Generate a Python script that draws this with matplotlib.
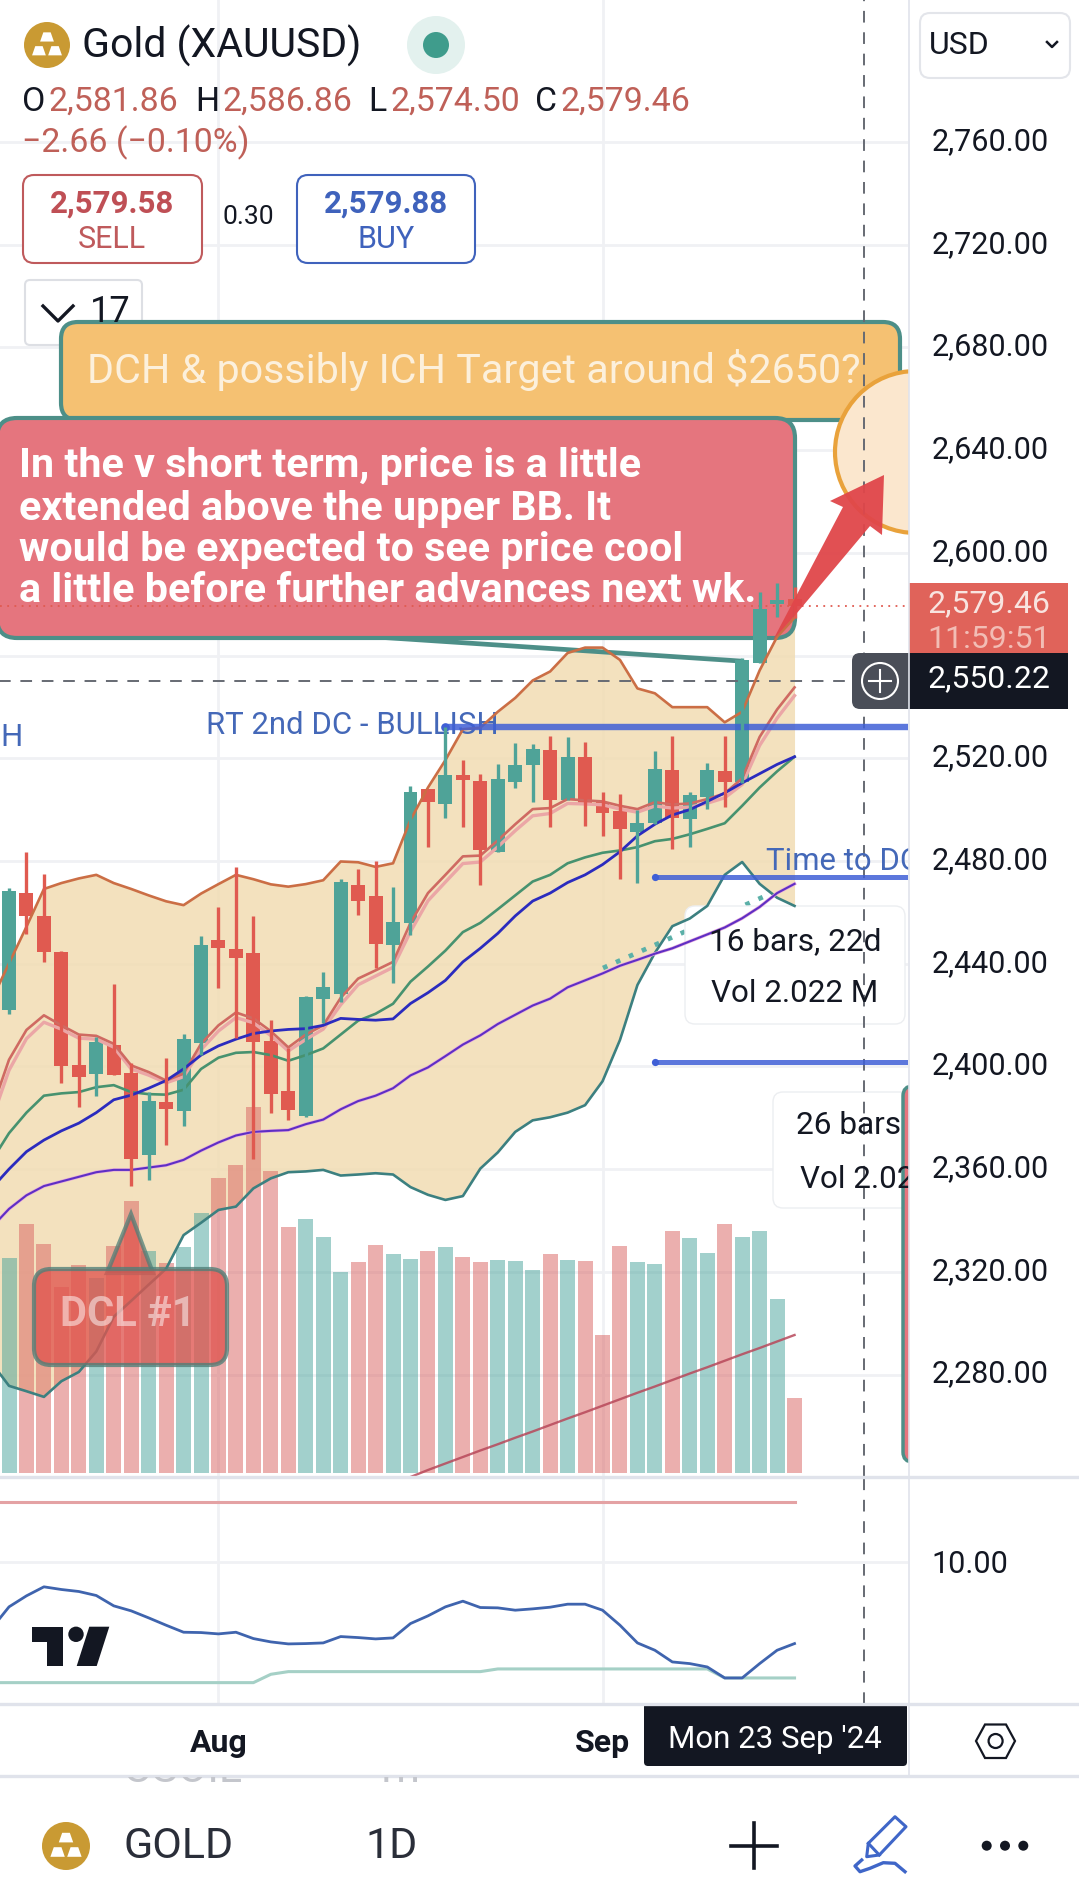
import numpy as np
import matplotlib
matplotlib.use('Agg')
import matplotlib.pyplot as plt
from matplotlib.patches import FancyBboxPatch, Circle, Polygon, Rectangle
from matplotlib.transforms import ScaledTranslation

plt.rcParams['font.family'] = ['Roboto', 'DejaVu Sans']

# daily candles, Jul - Sep 2024
opens = [2421.9, 2467.5, 2458.5, 2444.6, 2400.4, 2397.2, 2408.3, 2397.6, 2365.4, 2386.1, 2382.6, 2409.2,
         2449.2, 2445.7, 2444.0, 2409.9, 2390.4, 2380.8, 2426.4, 2428.3, 2470.5, 2466.2, 2447.1, 2456.0,
         2508.1, 2502.2, 2513.6, 2511.1, 2483.6, 2510.8, 2517.2, 2523.4, 2503.8, 2520.4, 2502.9, 2499.5,
         2491.4, 2494.7, 2515.4, 2496.3, 2505.0, 2514.9, 2510.8, 2557.2, 2580.1, 2581.86]
closes = [2468.2, 2458.5, 2444.6, 2400.1, 2396.0, 2409.7, 2396.5, 2364.1, 2386.6, 2383.3, 2410.8, 2447.3,
          2446.0, 2442.4, 2409.7, 2389.3, 2382.9, 2427.1, 2430.8, 2472.0, 2464.6, 2447.6, 2456.2, 2507.0,
          2503.1, 2513.6, 2511.7, 2484.1, 2511.8, 2517.2, 2523.8, 2503.8, 2520.4, 2502.7, 2498.6, 2492.3,
          2494.7, 2515.8, 2496.6, 2505.6, 2515.6, 2510.6, 2558.3, 2578.0, 2581.6, 2579.46]
highs = [2469.3, 2483.6, 2474.8, 2445.1, 2412.4, 2411.5, 2432.1, 2401.2, 2390.0, 2403.1, 2412.8, 2450.9,
         2462.1, 2477.7, 2458.5, 2418.1, 2407.0, 2427.6, 2436.9, 2473.0, 2476.8, 2480.0, 2469.8, 2509.3,
         2508.1, 2532.2, 2519.4, 2514.0, 2517.6, 2526.1, 2525.6, 2528.6, 2528.3, 2526.5, 2506.8, 2505.9,
         2499.7, 2522.9, 2528.6, 2506.8, 2518.3, 2528.6, 2559.0, 2584.6, 2588.4, 2586.86]
lows = [2420.5, 2451.7, 2440.5, 2393.6, 2384.2, 2388.3, 2396.5, 2353.4, 2355.7, 2369.5, 2376.6, 2404.4,
        2430.5, 2411.0, 2364.1, 2381.7, 2379.0, 2380.4, 2416.9, 2424.9, 2458.9, 2438.3, 2432.4, 2451.0,
        2485.4, 2496.8, 2493.2, 2470.7, 2483.6, 2508.3, 2502.9, 2493.2, 2503.8, 2493.8, 2489.8, 2472.8,
        2471.6, 2494.3, 2484.8, 2485.4, 2500.2, 2501.1, 2510.4, 2557.2, 2575.1, 2574.5]
# volume in thousands
volumes = [861, 997, 918, 744, 832, 781, 909, 1089, 887, 841, 904, 1041, 1181, 1234, 1466, 1208, 986, 1016,
           946, 803, 845, 913, 878, 858, 887, 904, 865, 845, 854, 847, 812, 876, 854, 850, 553, 909, 845,
           836, 968, 940, 880, 997, 946, 968, 696, 299]
vol_ma = [-16, 12, 38, 64, 90, 115, 141, 166, 192, 218, 243, 269, 295, 321, 346, 372, 398, 423, 449, 475, 500,
          526, 552]

# indicator lines start one bar left of the first candle
bb_upper = [2425.8, 2440.1, 2454.4, 2469.1, 2471.4, 2473.2, 2474.6, 2471.4, 2469.1, 2466.6, 2464.3, 2462.8,
            2467.3, 2471.0, 2474.6, 2472.9, 2470.9, 2470.0, 2471.0, 2472.5, 2479.8, 2479.5, 2477.7, 2479.1,
            2496.0, 2508.6, 2519.3, 2531.3, 2531.9, 2538.1, 2543.5, 2550.3, 2553.8, 2561.0, 2563.1, 2563.1,
            2558.3, 2547.2, 2545.3, 2539.9, 2539.9, 2539.9, 2534.0, 2538.1, 2554.2, 2567.3, 2574.8]
bb_lower = [2284.6, 2275.6, 2273.5, 2271.3, 2277.4, 2281.0, 2289.0, 2302.5, 2308.7, 2315.0, 2321.2, 2334.3,
            2339.1, 2344.1, 2345.4, 2352.5, 2356.4, 2358.8, 2359.1, 2359.7, 2357.5, 2357.9, 2358.4, 2357.9,
            2353.0, 2350.0, 2348.0, 2349.5, 2360.2, 2366.5, 2374.5, 2379.0, 2380.2, 2382.0, 2384.9, 2394.2,
            2410.3, 2431.7, 2444.2, 2454.6, 2457.6, 2462.5, 2474.6, 2479.6, 2471.1, 2465.7, 2462.5]
ma_red = [2382.9, 2402.6, 2414.2, 2419.9, 2416.0, 2412.4, 2411.9, 2408.8, 2400.4, 2397.8, 2394.5, 2397.2,
          2408.8, 2416.0, 2421.0, 2418.7, 2413.7, 2407.4, 2412.4, 2416.0, 2426.7, 2434.2, 2437.4, 2440.7,
          2455.9, 2467.5, 2474.6, 2481.8, 2482.1, 2488.0, 2494.3, 2500.2, 2500.6, 2504.1, 2503.6, 2503.2,
          2501.5, 2500.2, 2502.9, 2502.0, 2502.4, 2504.1, 2506.3, 2512.2, 2528.3, 2539.0, 2547.6]
ma_pink = [2379.0, 2398.5, 2410.8, 2417.2, 2414.5, 2411.0, 2410.6, 2407.5, 2399.0, 2396.6, 2393.6, 2396.0,
           2406.5, 2413.8, 2419.0, 2417.0, 2412.0, 2406.0, 2410.5, 2414.5, 2424.0, 2431.8, 2435.2, 2438.6,
           2452.5, 2464.5, 2471.8, 2479.0, 2479.6, 2485.5, 2491.8, 2497.6, 2498.5, 2502.4, 2502.2, 2501.9,
           2500.2, 2499.0, 2501.4, 2500.6, 2501.0, 2502.5, 2504.6, 2509.8, 2525.0, 2535.6, 2544.4]
ma_green = [2363.2, 2374.0, 2382.0, 2388.6, 2389.5, 2390.0, 2391.9, 2392.7, 2390.0, 2389.2, 2389.0, 2390.9,
            2399.0, 2403.4, 2405.3, 2405.6, 2404.4, 2402.2, 2404.4, 2407.0, 2412.4, 2417.8, 2420.5, 2424.4,
            2433.0, 2438.9, 2445.1, 2452.3, 2455.9, 2461.2, 2466.6, 2472.0, 2474.6, 2479.1, 2481.4, 2483.2,
            2484.1, 2485.4, 2487.7, 2488.6, 2490.4, 2492.5, 2494.7, 2501.5, 2508.6, 2514.9, 2520.6]
ma_blue = [2352.5, 2360.0, 2366.8, 2371.3, 2374.9, 2377.9, 2382.0, 2387.0, 2388.8, 2391.5, 2394.5, 2399.0,
           2404.4, 2408.0, 2410.6, 2412.8, 2413.8, 2414.4, 2414.7, 2416.0, 2418.7, 2418.3, 2418.0, 2418.5,
           2424.5, 2428.7, 2433.5, 2440.7, 2446.0, 2451.8, 2458.6, 2464.4, 2467.5, 2471.6, 2474.6, 2478.6,
           2483.6, 2489.8, 2494.3, 2497.9, 2500.0, 2503.2, 2506.5, 2510.4, 2514.0, 2517.6, 2520.6]
ma_purple = [2337.3, 2344.5, 2349.8, 2353.4, 2355.2, 2357.0, 2358.8, 2359.7, 2359.7, 2360.6, 2361.5, 2363.6,
             2367.2, 2370.4, 2373.1, 2374.5, 2374.9, 2375.2, 2377.5, 2379.3, 2383.3, 2386.5, 2388.6, 2391.5,
             2396.5, 2399.6, 2404.0, 2408.5, 2412.1, 2416.5, 2420.1, 2423.7, 2426.4, 2430.8, 2433.5, 2436.2,
             2439.2, 2441.5, 2443.9, 2446.0, 2448.7, 2451.4, 2454.1, 2457.7, 2462.1, 2467.5, 2471.1]
# lower pane
osc_blue = [6.0, 7.3, 7.96, 8.5, 8.34, 8.22, 7.98, 7.36, 7.06, 6.64, 6.2, 5.78, 5.76, 5.68, 5.78, 5.4, 5.2,
            5.08, 5.1, 5.14, 5.52, 5.46, 5.38, 5.44, 6.3, 6.76, 7.3, 7.64, 7.26, 7.24, 7.1, 7.18, 7.28, 7.46,
            7.46, 7.1, 6.2, 5.14, 4.7, 4.0, 3.9, 3.7, 3.04, 3.04, 3.9, 4.7, 5.1]
osc_green = [2.76, 2.76, 2.76, 2.76, 2.76, 2.76, 2.76, 2.76, 2.76, 2.76, 2.76, 2.76, 2.76, 2.76, 2.76, 2.76,
             3.26, 3.42, 3.42, 3.42, 3.42, 3.42, 3.42, 3.42, 3.42, 3.42, 3.42, 3.42, 3.42, 3.58, 3.58, 3.58,
             3.58, 3.58, 3.58, 3.58, 3.58, 3.58, 3.58, 3.58, 3.58, 3.58, 3.04, 3.04, 3.04, 3.04, 3.04]
osc_red = [13.6] * 47

price_ticks = [2760, 2720, 2680, 2640, 2600, 2560, 2520, 2480, 2440, 2400, 2360, 2320, 2280]
price_labels = ['2,760.00', '2,720.00', '2,680.00', '2,640.00', '2,600.00', '', '2,520.00', '2,480.00',
                '2,440.00', '2,400.00', '2,360.00', '2,320.00', '2,280.00']
month_ticks = [12, 34]
month_labels = ['Aug', 'Sep']
last_price = 2579.46
cross_price = 2550.22
cross_bar = 49
level_bars = [25, 37, 37]
level_prices = [2532.2, 2473.6, 2401.7]
level_widths = [4.6, 3.6, 3.6]

W, H = 1079, 1903
RED, GREEN = '#E05A50', '#4FA398'
VOL_RED, VOL_GREEN = '#D9605F', '#47A39A'
TEAL_EDGE = '#4D8F88'
INK = '#131722'
GRID = '#F0F1F4'
BLUE_LINE = '#3F5FD6'

bars = np.arange(len(opens))
line_x = np.arange(-1, 46)
vol_x = np.arange(len(volumes))
colors = [GREEN if c >= o else RED for o, c in zip(opens, closes)]
vol_colors = [VOL_GREEN if c >= o else VOL_RED for o, c in zip(opens, closes)]
xlim = (-0.516, 51.5)
ylim = (2240.1, 2815.3)

fig = plt.figure(figsize=(W / 100, H / 100), dpi=100, facecolor='white')


def pane(top, bottom, zorder):
    a = fig.add_axes([0, 1 - bottom / H, 908 / W, (bottom - top) / H], zorder=zorder)
    a.set_xlim(*xlim)
    a.patch.set_alpha(0)
    for s in a.spines.values():
        s.set_visible(False)
    a.tick_params(length=0)
    return a


def px_axes(x0, y0, x1, y1, zorder):
    # axes whose data units are screen pixels, y going down
    a = fig.add_axes([x0 / W, 1 - y1 / H, (x1 - x0) / W, (y1 - y0) / H], zorder=zorder)
    a.set_xlim(x0, x1)
    a.set_ylim(y1, y0)
    a.axis('off')
    return a


# price pane: grid and band at the bottom, then volume, then candles
ax = pane(0, 1477, 1)
ax.set_ylim(*ylim)
ax.yaxis.tick_right()
ax.set_yticks(price_ticks)
ax.set_yticklabels(price_labels, fontsize=22, color=INK)
ax.tick_params(axis='y', pad=17)
for t in ax.get_yticklabels():
    t.set_transform(t.get_transform() + ScaledTranslation(0, 3.5 / 100, fig.dpi_scale_trans))
ax.set_xticks(month_ticks)
ax.set_xticklabels([])
ax.grid(True, color=GRID, linewidth=2)
ax.set_axisbelow(True)
ax.fill_between(line_x, bb_lower, bb_upper, color='#F1DBB0', alpha=0.82, linewidth=0)

ax_vol = pane(0, 1477, 2)
ax_vol.set_ylim(-16, 5892)
ax_vol.axis('off')
ax_vol.bar(vol_x, volumes, width=0.86, color=vol_colors, alpha=0.5, linewidth=0)
ax_vol.plot(np.arange(23, 46), vol_ma, color='#B8485A', linewidth=1.7, alpha=0.85)

ax_c = pane(0, 1477, 3)
ax_c.set_ylim(*ylim)
ax_c.axis('off')
ax_c.axhline(last_price, color=RED, linewidth=1.3, linestyle=(0, (1, 3)))
ax_c.plot([-1, cross_bar - 1], [cross_price, cross_price], color='#666A73', linewidth=1.4, linestyle=(0, (6, 5)))
ax_c.axvline(cross_bar, color='#666A73', linewidth=1.4, linestyle=(0, (6, 5)))
ax_c.plot(line_x, bb_upper, color='#CB6E45', linewidth=1.9)
ax_c.plot(line_x, bb_lower, color='#3C8080', linewidth=1.9)
ax_c.plot(line_x, ma_pink, color='#EBA6A6', linewidth=2.4)
ax_c.plot(line_x, ma_red, color='#CF6A62', linewidth=1.9)
ax_c.plot(line_x, ma_green, color='#47926F', linewidth=1.9)
ax_c.plot(line_x, ma_blue, color='#2B2BBE', linewidth=2.0)
ax_c.plot(line_x, ma_purple, color='#E6A8DC', linewidth=2.4)
ax_c.plot(line_x, ma_purple, color='#5E2FC4', linewidth=1.5)
for start, level, lw in zip(level_bars, level_prices, level_widths):
    ax_c.plot([start, xlim[1]], [level, level], color=BLUE_LINE, linewidth=lw, alpha=0.85,
              solid_capstyle='round')
    ax_c.plot([start], [level], 'o', color=BLUE_LINE, markersize=lw + 1.6, markeredgewidth=0)
ax_c.vlines(bars, lows, highs, colors=colors, linewidth=2.4)
ax_c.bar(bars, np.array(closes) - np.array(opens), bottom=opens, width=0.8, color=colors, linewidth=0)

# lower pane
ax_o = pane(1477, 1704, 1)
ax_o.set_ylim(1.48, 15.08)
ax_o.yaxis.tick_right()
ax_o.set_yticks([10])
ax_o.set_yticklabels(['10.00'], fontsize=22, color=INK)
ax_o.tick_params(axis='y', pad=17)
ax_o.set_xticks(month_ticks)
ax_o.set_xticklabels(month_labels, fontsize=23, fontweight='bold', color=INK)
ax_o.tick_params(axis='x', pad=17)
ax_o.grid(True, color=GRID, linewidth=2)
ax_o.set_axisbelow(True)
ax_o.plot(line_x, osc_red, color='#E4A2A4', linewidth=2.2)
ax_o.plot(line_x, osc_green, color='#A5D0C6', linewidth=2.2)
ax_o.plot(line_x, osc_blue, color='#3F64AE', linewidth=2.0)
ax_o.axvline(cross_bar, color='#666A73', linewidth=1.4, linestyle=(0, (6, 5)))

# app interface, drawn in screen pixels
ui_low = px_axes(0, 0, W, H, 2.5)      # under the candles
low_clip = px_axes(0, 0, 909, 1477, 2.6)  # the same, cut at the price scale
ui = px_axes(0, 0, W, H, 5)
top_clip = px_axes(0, 0, 909, 1477, 4)
tab_clip = px_axes(0, 1777, W, 1810, 5)


def rbox(a, x0, y0, x1, y1, r, **kw):
    p = FancyBboxPatch((x0 + r, y0 + r), x1 - x0 - 2 * r, y1 - y0 - 2 * r,
                       boxstyle=f'round,pad={r},rounding_size={r}', mutation_aspect=1, **kw)
    a.add_patch(p)
    return p


def label(x, y, s, size, color=INK, weight='normal', ha='left', a=ui, **kw):
    return a.text(x, y, s, fontsize=size, color=color, fontweight=weight, ha=ha, va='center', **kw)


def gold_icon(cx, cy, r):
    ui.add_patch(Circle((cx, cy), r, color='#C99A33', linewidth=0))
    for dx, dy in [(0, -0.35), (-0.35, 0.25), (0.35, 0.25)]:
        x, y = cx + dx * r, cy + dy * r
        ui.add_patch(Polygon([(x - 0.3 * r, y + 0.2 * r), (x - 0.16 * r, y - 0.2 * r),
                              (x + 0.16 * r, y - 0.2 * r), (x + 0.3 * r, y + 0.2 * r)],
                             color='white', linewidth=0))


# header
gold_icon(47, 45, 23)
label(82, 46, 'Gold (XAUUSD)', 29.5)
ui.add_patch(Circle((436, 45), 29, color='#E3F1EE', linewidth=0))
ui.add_patch(Circle((436, 45), 13, color='#3F9C8C', linewidth=0))
VAL = '#BF6058'
for x0, k, x1, v in [(22, 'O', 48, '2,581.86'), (195, 'H', 222, '2,586.86'),
                     (368, 'L', 390, '2,574.50'), (535, 'C', 561, '2,579.46')]:
    label(x0, 102, k, 24.4)
    label(x1, 102, v, 24.4, color=VAL)
label(22, 143, '\u22122.66 (\u22120.10%)', 24.4, color=VAL)
rbox(ui, 23, 175, 202, 263, 11, facecolor='white', edgecolor='#BF5A5C', linewidth=1.5)
label(112, 204, '2,579.58', 22.5, '#BF4F55', 'bold', 'center')
label(112, 239, 'SELL', 22, '#BF5A5C', ha='center')
label(248, 217, '0.30', 19, ha='center')
rbox(ui, 297, 175, 475, 263, 11, facecolor='white', edgecolor='#3F62BC', linewidth=1.5)
label(386, 204, '2,579.88', 22.5, '#3F62BC', 'bold', 'center')
label(386, 239, 'BUY', 22, '#3F62BC', ha='center')
rbox(ui_low, 25, 280, 142, 345, 5, facecolor='white', edgecolor='#DDDFE4', linewidth=1.5)
ui_low.plot([43, 58, 73], [306, 321, 306], color=INK, linewidth=2.4)
label(110, 312, '17', 26, ha='center', a=ui_low)
rbox(ui, 920, 13, 1070, 78, 10, facecolor='white', edgecolor='#E3E5EA', linewidth=1.5)
label(929, 45, 'USD', 23)
ui.plot([1047, 1052, 1057], [42, 47, 42], color=INK, linewidth=1.8)

# interface lines around the panes
ui.plot([909, 909], [0, 1776], color='#E0E3EB', linewidth=1.2)
ui.plot([0, W], [1477, 1477], color='#E0E3EB', linewidth=2.4)
ui.plot([0, W], [1704, 1704], color='#E0E3EB', linewidth=2.4)
ui.plot([0, W], [1776, 1776], color='#E0E3EB', linewidth=2.4)

# drawings on the chart
rbox(ui_low, 685, 906, 905, 1024, 10, facecolor='white', edgecolor='#ECEEF1', linewidth=1)
rbox(low_clip, 773, 1092, 925, 1208, 10, facecolor='white', edgecolor='#ECEEF1', linewidth=1)
ui_low.plot([603, 763], [968, 897], color='#5BB0A8', linewidth=3.4, linestyle=(0, (1, 2)), zorder=0)
label(795, 942, '16 bars, 22d', 22.8, ha='center')
label(795, 994, 'Vol 2.022 M', 22.6, ha='center')
label(796, 1126, '26 bars', 22.8, a=top_clip, clip_on=True)
label(800, 1179, 'Vol 2.02', 22.6, a=top_clip, clip_on=True)
rbox(top_clip, 903, 1086, 960, 1462, 10, facecolor='#E5757E', edgecolor=TEAL_EDGE, linewidth=2.5)

label(206, 726, 'RT 2nd DC - BULLISH', 22.4, '#4468B8', a=ui_low)
label(0, 738, 'H', 22.4, '#4468B8', a=ui_low)
label(766, 861, 'Time to DC', 22.4, '#4468B8', a=top_clip, clip_on=True)

# target circle and arrow
low_clip.add_patch(Circle((916, 452), 81, facecolor='#FBE7CE', edgecolor='#E9A23B', linewidth=3))
ui_low.plot([376, 740], [637, 661], color=TEAL_EDGE, linewidth=3.4)
# red note: candles and the last price line stay visible over it
rbox(low_clip, -3, 418, 795, 638, 20, facecolor='#E5757E', edgecolor=TEAL_EDGE, linewidth=3)
for y, s in [(466, 'In the v short term, price is a little'),
             (509, 'extended above the upper BB. It'),
             (550, 'would be expected to see price cool'),
             (591, 'a little before further advances next wk.')]:
    label(19, y, s, 29.7, 'white', 'bold')
ui.add_patch(Polygon([(773, 640), (843, 507), (830, 501), (884, 475), (882, 535), (870, 526), (797, 613)],
                     facecolor='#E0464A', edgecolor='none', alpha=0.95))
# orange note
rbox(ui_low, 61, 322, 900, 420, 17, facecolor='#F5C172', edgecolor=TEAL_EDGE, linewidth=3)
label(474, 370, 'DCH & possibly ICH Target around $2650?', 29.7, '#FCF0DC', ha='center')

# DCL note
ui.add_patch(Polygon([(107, 1273), (131, 1214), (153, 1273)], facecolor='#E0554F', edgecolor='#4F7F78',
                     linewidth=3, alpha=0.75))
rbox(ui, 34, 1269, 227, 1365, 17, facecolor='#E0554F', edgecolor='#4F7F78', linewidth=3, alpha=0.78)
label(128, 1315, 'DCL #1', 30, 'white', 'bold', 'center', alpha=0.5)

# price tags
ui.add_patch(Rectangle((909, 583), 159, 70, color='#E0635A', linewidth=0))
label(989, 604, '2,579.46', 23, '#F8E4E0', ha='center')
label(989, 639, '11:59:51', 23, '#F2BDB5', ha='center')
ui.add_patch(Rectangle((909, 653), 159, 56, color=INK, linewidth=0))
label(989, 679, '2,550.22', 23, 'white', ha='center')
rbox(ui, 852, 653, 880, 709, 8, facecolor='#4A4E58', edgecolor='none')
ui.add_patch(Rectangle((866, 653), 43, 56, color='#4A4E58', linewidth=0))
ui.add_patch(Circle((880, 681), 18, facecolor='none', edgecolor='white', linewidth=1.5))
ui.plot([869, 891], [681, 681], color='white', linewidth=1.5)
ui.plot([880, 880], [670, 692], color='white', linewidth=1.5)

# logo
ui.add_patch(Polygon([(31.7, 1626.7), (63.3, 1626.7), (63.3, 1666), (46.7, 1666), (46.7, 1642.3), (31.7, 1642.3)],
                     color=INK, linewidth=0))
ui.add_patch(Circle((76, 1634.3), 7.7, color=INK, linewidth=0))
ui.add_patch(Polygon([(89.3, 1626.7), (109.3, 1626.7), (96.7, 1666), (76.7, 1666)], color=INK, linewidth=0))

# time axis tag
rbox(ui, 644, 1703, 907, 1766, 4, facecolor=INK, edgecolor='none')
label(775, 1740, "Mon 23 Sep '24", 22.5, 'white', ha='center')
ui.add_patch(Polygon([(976, 1741), (985, 1724.5), (1006, 1724.5), (1015, 1741), (1006, 1758), (985, 1758)],
                     facecolor='none', edgecolor=INK, linewidth=1.6))
ui.add_patch(Circle((995.6, 1741), 7, facecolor='none', edgecolor=INK, linewidth=1.6))

# bottom bar
label(124, 1770, 'USOIL', 31, '#C4C6CC', a=tab_clip, clip_on=True)
label(372, 1770, '1h', 31, '#C4C6CC', a=tab_clip, clip_on=True)
gold_icon(66, 1846, 24)
label(124, 1847, 'GOLD', 31, '#2A2E39')
label(365, 1847, '1D', 31, '#2A2E39')
ui.plot([731, 777], [1846, 1846], color=INK, linewidth=2.6)
ui.plot([754, 754], [1823, 1868], color=INK, linewidth=2.6)
ui.add_patch(Polygon([(895, 1816.7), (906, 1826.7), (879.3, 1855), (866.7, 1856.7), (868.3, 1843.3)], facecolor='none',
                     edgecolor='#3F66C8', linewidth=2.2, joinstyle='round'))
ui.plot([868.3, 879.3], [1843.3, 1855], color='#3F66C8', linewidth=2.2)
ui.plot([861.7, 855, 860, 870, 883.3, 895, 905], [1860, 1866, 1871.7, 1868.3, 1862.7, 1863.3, 1871.7],
        color='#3F66C8', linewidth=2.4)
for x in [986.7, 1005, 1023.3]:
    ui.add_patch(Circle((x, 1845.7), 5, color=INK, linewidth=0))

fig.savefig('out.png', dpi=100)
